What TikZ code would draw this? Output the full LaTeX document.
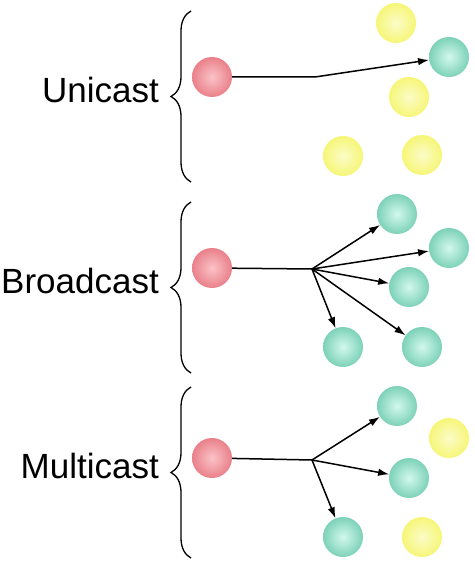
\documentclass[tikz,border=0pt]{standalone}
\usepackage{fontspec}
\setmainfont{Liberation Sans}
\usepackage{xcolor}
\usepackage{tikz}
\usetikzlibrary{arrows.meta,decorations.pathreplacing,positioning}

\definecolor{srcin}{RGB}{250,195,200}
\definecolor{srcmid}{RGB}{232,120,130}
\definecolor{srcout}{RGB}{205,60,72}
\definecolor{dstin}{RGB}{210,248,236}
\definecolor{dstmid}{RGB}{115,205,178}
\definecolor{dstout}{RGB}{45,158,128}
\definecolor{offin}{RGB}{252,252,200}
\definecolor{offmid}{RGB}{245,245,110}
\definecolor{offout}{RGB}{228,228,20}

% gradient runs all the way to the rim of the ball
\pgfdeclareradialshading{srcball}{\pgfpointorigin}{color(0bp)=(srcin); color(28bp)=(srcmid); color(50bp)=(srcout)}
\pgfdeclareradialshading{dstball}{\pgfpointorigin}{color(0bp)=(dstin); color(28bp)=(dstmid); color(50bp)=(dstout)}
\pgfdeclareradialshading{offball}{\pgfpointorigin}{color(0bp)=(offin); color(28bp)=(offmid); color(50bp)=(offout)}

\begin{document}
\begin{tikzpicture}[
    x=1pt, y=-1pt,
    host/.style={circle, minimum size=40pt, inner sep=0pt},
    sender/.style={host, shading=srcball},
    receiver/.style={host, shading=dstball},
    idle/.style={host, shading=offball},
    wire/.style={line width=1.5pt},
    castarrow/.style={wire, -{Latex[length=11pt,width=7.5pt]}},
    % brace opens to the right, tip points at the label
    castbrace/.style={decorate, decoration={brace, amplitude=20pt}, line width=1.3pt},
    castlabel/.style={anchor=base east, inner sep=0pt, font=\fontsize{35}{42}\selectfont},
  ]
  \useasboundingbox (0,0) rectangle (474,564);

  % Unicast
  \node[castlabel] (uni) at (159,103) {Unicast};
  \coordinate (ubtop) at (191,11);
  \coordinate (ubbot) at (191,182);
  \draw[castbrace] (ubbot) -- (ubtop);
  \node[sender] (us) at (212,77) {};
  \node[idle] (uy1) at (396,23) {};
  \node[idle] (uy2) at (409,97) {};
  \node[idle] (uy3) at (343,156) {};
  \node[idle] (uy4) at (422,155) {};
  \node[receiver] (ur) at (449,57) {};
  \coordinate (uj) at (315,77);
  \draw[castarrow] (us) -- (uj) -- (ur);

  % Broadcast
  \node[castlabel] (broad) at (159,293) {Broadcast};
  \coordinate (bbtop) at (191,202);
  \coordinate (bbbot) at (191,373);
  \draw[castbrace] (bbbot) -- (bbtop);
  \node[sender] (bs) at (212,268) {};
  \node[receiver] (br1) at (397,214) {};
  \node[receiver] (br2) at (449,248) {};
  \node[receiver] (br3) at (409,287) {};
  \node[receiver] (br4) at (343,347) {};
  \node[receiver] (br5) at (422,347) {};
  \coordinate (bj) at (312,269);
  \draw[wire] (bs) -- (bj);
  \foreach \r in {br1,br2,br3,br4,br5}
    \draw[castarrow] (bj) -- (\r);

  % Multicast
  \node[castlabel] (multi) at (159,478) {Multicast};
  \coordinate (mbtop) at (191,387);
  \coordinate (mbbot) at (191,558);
  \draw[castbrace] (mbbot) -- (mbtop);
  \node[sender] (ms) at (212,458) {};
  \node[receiver] (mr1) at (397,406) {};
  \node[receiver] (mr2) at (409,478) {};
  \node[receiver] (mr3) at (343,537) {};
  \node[idle] (my1) at (449,438) {};
  \node[idle] (my2) at (422,537) {};
  \coordinate (mj) at (312,460);
  \draw[wire] (ms) -- (mj);
  \foreach \r in {mr1,mr2,mr3}
    \draw[castarrow] (mj) -- (\r);
\end{tikzpicture}
\end{document}
